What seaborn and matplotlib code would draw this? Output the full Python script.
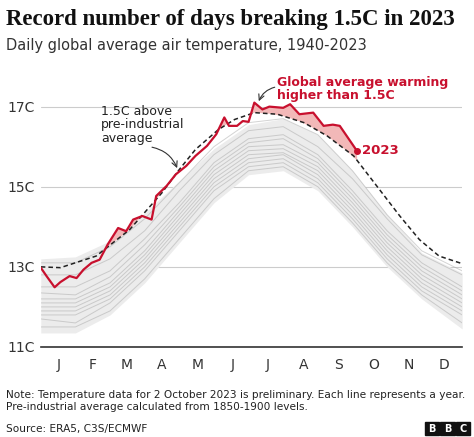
import numpy as np
import matplotlib
matplotlib.use("Agg")
import matplotlib.pyplot as plt
import seaborn as sns

# day-of-year positions and values
red_days = [0, 5, 12, 17, 25, 31, 37, 44, 51, 58, 67, 74, 80, 88, 96, 100, 109, 117, 126, 134, 144, 152, 159, 163, 170, 175, 180, 185, 192, 198, 210, 216, 224, 236, 245, 253, 259, 264, 274]
red_temp = [12.98, 12.77, 12.49, 12.62, 12.77, 12.72, 12.93, 13.1, 13.18, 13.56, 13.97, 13.89, 14.18, 14.27, 14.18, 14.77, 15.02, 15.31, 15.52, 15.77, 16.02, 16.31, 16.73, 16.52, 16.52, 16.64, 16.62, 17.1, 16.93, 17.0, 16.97, 17.06, 16.81, 16.85, 16.52, 16.55, 16.52, 16.31, 15.89]

dash_days = [0, 17, 48, 77, 105, 120, 134, 154, 168, 185, 205, 228, 248, 271, 291, 311, 328, 345, 365]
dash_temp = [13.0, 12.98, 13.27, 13.93, 14.85, 15.43, 15.93, 16.43, 16.68, 16.85, 16.81, 16.6, 16.27, 15.77, 15.02, 14.27, 13.68, 13.27, 13.08]

grey_days = [0, 30, 60, 90, 120, 150, 180, 210, 240, 270, 300, 330, 365]
grey_years = [
    [11.5, 11.5, 11.9, 12.7, 13.7, 14.7, 15.4, 15.5, 15.0, 14.1, 13.1, 12.3, 11.6],
    [11.7, 11.6, 12.1, 12.9, 13.9, 14.9, 15.5, 15.6, 15.1, 14.2, 13.2, 12.4, 11.8],
    [11.8, 11.8, 12.2, 13.0, 14.0, 15.0, 15.6, 15.7, 15.2, 14.3, 13.3, 12.5, 11.9],
    [11.9, 11.9, 12.3, 13.1, 14.1, 15.1, 15.7, 15.8, 15.3, 14.4, 13.4, 12.6, 12.0],
    [12.0, 12.0, 12.4, 13.2, 14.2, 15.2, 15.8, 15.85, 15.4, 14.5, 13.5, 12.7, 12.1],
    [12.1, 12.1, 12.5, 13.3, 14.3, 15.3, 15.9, 15.95, 15.5, 14.6, 13.6, 12.8, 12.2],
    [12.2, 12.2, 12.6, 13.4, 14.4, 15.4, 16.0, 16.05, 15.6, 14.7, 13.7, 12.9, 12.3],
    [12.35, 12.3, 12.75, 13.55, 14.5, 15.5, 16.1, 16.2, 15.7, 14.8, 13.8, 13.0, 12.4],
    [12.5, 12.5, 12.9, 13.7, 14.6, 15.6, 16.2, 16.3, 15.8, 14.9, 13.9, 13.1, 12.5],
    [12.8, 12.8, 13.2, 13.9, 14.9, 15.8, 16.4, 16.5, 16.0, 15.2, 14.2, 13.3, 12.8],
    [13.1, 13.1, 13.5, 14.2, 15.1, 16.0, 16.6, 16.7, 16.3, 15.4, 14.3, 13.4, 12.9],
]
band_low = [11.35, 11.35, 11.8, 12.6, 13.6, 14.6, 15.3, 15.4, 14.9, 14.0, 13.0, 12.2, 11.45]
band_high = [13.2, 13.25, 13.65, 14.35, 15.15, 15.95, 16.55, 16.7, 16.3, 15.4, 14.3, 13.35, 12.85]

month_edges = [0, 31, 59, 90, 120, 151, 181, 212, 243, 273, 304, 334, 365]
month_labels = ["J", "F", "M", "A", "M", "J", "J", "A", "S", "O", "N", "D"]
y_ticks = [11, 13, 15, 17]

sns.set_style("white")
plt.rcParams['font.family'] = ['DejaVu Sans']

fig = plt.figure(figsize=(4.74, 4.37), dpi=100)
ax = fig.add_axes([0.086, 0.206, 0.889, 0.605])

ax.fill_between(grey_days, band_low, band_high, color="#ececec", lw=0)
for yr in grey_years:
    sns.lineplot(x=grey_days, y=yr, ax=ax, color="#a8a8a8", lw=0.7, alpha=0.5)

sns.lineplot(x=dash_days, y=dash_temp, ax=ax, color="#222222", lw=1.1, linestyle=(0, (3, 2)))

dash_on_red = np.interp(red_days, dash_days, dash_temp)
ax.fill_between(red_days, dash_on_red, red_temp, where=np.array(red_temp) > dash_on_red,
                color="#f2b8b8", lw=0, interpolate=True)
sns.lineplot(x=red_days, y=red_temp, ax=ax, color="#c8102e", lw=1.6)
ax.plot(red_days[-1], red_temp[-1], "o", color="#c8102e", ms=4)

ax.set_xlim(0, 365)
ax.set_ylim(11, 17.6)
ax.set_yticks(y_ticks)
ax.set_yticklabels([f"{t}C" for t in y_ticks], fontsize=10, color="#333333")
ax.grid(axis="y", color="#cccccc", lw=0.8)
ax.set_xticks(month_edges)
ax.set_xticklabels([])
ax.set_xticks([(a + b) / 2 for a, b in zip(month_edges[:-1], month_edges[1:])], minor=True)
ax.set_xticklabels(month_labels, minor=True, fontsize=10, color="#333333")
ax.tick_params(axis="x", which="major", length=5, color="#333333", width=0.8)
ax.tick_params(axis="x", which="minor", length=0, pad=8)
ax.tick_params(axis="y", length=0, pad=4)
for s in ["top", "right", "left"]:
    ax.spines[s].set_visible(False)
ax.spines["bottom"].set_color("#333333")
ax.spines["bottom"].set_linewidth(1.2)

ax.text(278, 15.9, "2023", color="#c8102e", fontsize=9.5, fontweight="bold", va="center")
ax.text(205, 17.45, "Global average warming\nhigher than 1.5C", color="#c8102e",
        fontsize=9, fontweight="bold", va="center", linespacing=1.0)
ax.annotate("", xy=(188, 17.07), xytext=(205, 17.5),
            arrowprops=dict(arrowstyle="->", color="#333333", lw=0.8, connectionstyle="arc3,rad=0.3"))
ax.text(52, 16.55, "1.5C above\npre-industrial\naverage", color="#222222", fontsize=9,
        va="center", linespacing=1.05)
ax.annotate("", xy=(119, 15.4), xytext=(94, 16.0),
            arrowprops=dict(arrowstyle="->", color="#333333", lw=0.8, connectionstyle="arc3,rad=-0.3"))

fig.text(0.012, 0.955, "Record number of days breaking 1.5C in 2023", fontsize=16.5,
         fontweight="bold", family="Liberation Serif", color="#111111", va="center")
fig.text(0.012, 0.897, "Daily global average air temperature, 1940-2023", fontsize=10.5,
         color="#333333", va="center")
fig.text(0.012, 0.083, "Note: Temperature data for 2 October 2023 is preliminary. Each line represents a year.\n"
         "Pre-industrial average calculated from 1850-1900 levels.", fontsize=7.6,
         color="#222222", va="center", linespacing=1.25)
fig.text(0.012, 0.018, "Source: ERA5, C3S/ECMWF", fontsize=7.6, color="#222222", va="center")
for i, x0 in enumerate([0.896, 0.929, 0.962]):
    fig.patches.append(plt.Rectangle((x0, 0.004), 0.03, 0.03, transform=fig.transFigure,
                                     color="#111111"))
    fig.text(x0 + 0.015, 0.019, "BBC"[i], color="white", fontsize=7, fontweight="bold",
             ha="center", va="center")

fig.savefig("out.png", dpi=100)
